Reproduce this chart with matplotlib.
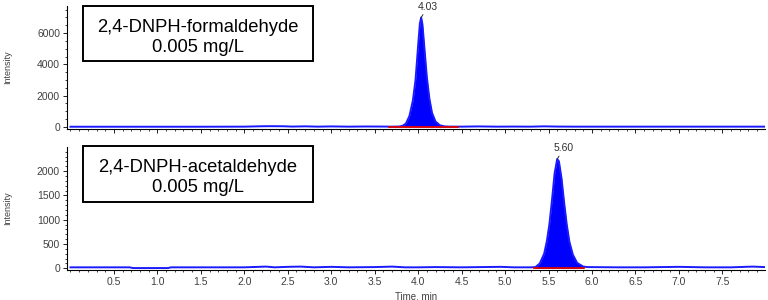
import numpy as np
import matplotlib
matplotlib.use('Agg')
import matplotlib.pyplot as plt
from matplotlib.patches import Rectangle
from matplotlib.ticker import MultipleLocator

plt.rcParams['font.family'] = ['Liberation Sans', 'DejaVu Sans']

# formaldehyde trace (time min, intensity)
form_base_t = [0.0, 0.5, 1.0, 1.5, 2.0, 2.2, 2.3, 2.45, 2.55, 2.7, 2.85, 3.0, 3.2, 3.4, 3.6, 3.7,
               4.35, 4.5, 4.7, 4.9, 5.1, 5.3, 5.45, 5.6, 5.8, 6.0, 6.5, 7.0, 7.5, 7.99]
form_base_y = [15, 15, 15, 15, 20, 45, 50, 45, 25, 40, 20, 35, 20, 30, 25, 20,
               25, 20, 35, 20, 25, 20, 40, 25, 20, 20, 20, 20, 20, 20]
form_peak_t = [3.78, 3.82, 3.86, 3.90, 3.94, 3.97, 4.00, 4.02, 4.035, 4.05, 4.07, 4.10, 4.13, 4.16, 4.20, 4.25, 4.30]
form_peak_y = [30, 70, 220, 700, 1700, 3000, 5200, 6600, 7000, 6550, 5200, 3200, 1800, 900, 350, 110, 40]
form_rt = 4.03
form_int = (3.66, 4.46)

# acetaldehyde trace
acet_base_t = [0.0, 0.5, 0.68, 0.72, 1.0, 1.12, 1.16, 1.5, 2.0, 2.25, 2.35, 2.5, 2.65, 2.8, 3.0, 3.2,
               3.5, 3.7, 3.85, 4.0, 4.2, 4.5, 4.95, 5.1, 5.3, 5.95, 6.3, 6.6, 7.0, 7.3, 7.6, 7.85, 7.99]
acet_base_y = [20, 20, 20, 5, 5, 5, 20, 20, 20, 35, 20, 30, 35, 20, 30, 20,
               25, 35, 20, 20, 25, 20, 30, 20, 20, 25, 20, 20, 30, 20, 20, 35, 25]
acet_peak_t = [5.35, 5.40, 5.45, 5.48, 5.51, 5.54, 5.57, 5.60, 5.62, 5.65, 5.68, 5.71, 5.74, 5.78, 5.83, 5.90]
acet_peak_y = [25, 100, 300, 550, 900, 1400, 1950, 2250, 2200, 1850, 1350, 900, 550, 280, 110, 35]
acet_rt = 5.60
acet_int = (5.33, 5.91)

panels = [
    dict(base_t=form_base_t, base_y=form_base_y, peak_t=form_peak_t, peak_y=form_peak_y,
         rt=form_rt, integ=form_int, label=['2,4-DNPH-formaldehyde', '0.005 mg/L'],
         yticks=[0, 2000, 4000, 6000], minor=500, ylim=(-130, 7730), pos=[0.0872, 0.57, 0.9088, 0.41]),
    dict(base_t=acet_base_t, base_y=acet_base_y, peak_t=acet_peak_t, peak_y=acet_peak_y,
         rt=acet_rt, integ=acet_int, label=['2,4-DNPH-acetaldehyde', '0.005 mg/L'],
         yticks=[0, 500, 1000, 1500, 2000], minor=100, ylim=(-35, 2496), pos=[0.0872, 0.10, 0.9088, 0.41]),
]

fig = plt.figure(figsize=(7.68, 3.0), dpi=100)
tc = '#404040'

for i, p in enumerate(panels):
    ax = fig.add_axes(p['pos'])
    # merge baseline and peak points, peak region overrides baseline
    lo, hi = p['peak_t'][0], p['peak_t'][-1]
    bt = [(t, y) for t, y in zip(p['base_t'], p['base_y']) if t < lo or t > hi]
    pts = sorted(bt + list(zip(p['peak_t'], p['peak_y'])))
    t = np.array([a for a, b in pts])
    y = np.array([b for a, b in pts])

    mask = (t >= p['integ'][0]) & (t <= p['integ'][1])
    ax.fill_between(t[mask], 0, y[mask], color='#0000ff', lw=0)
    ax.plot(t, y, color='#1a1aff', lw=1.4)
    ax.plot(p['integ'], [0, 0], color='#e00000', lw=1.3)

    apex = int(np.argmax(y))
    ax.annotate('%.2f' % p['rt'], xy=(t[apex], y[apex]), xytext=(5, 4), textcoords='offset points',
                ha='center', va='bottom', fontsize=7.5, color='#303030',
                arrowprops=dict(arrowstyle='-', color='#303030', lw=0.7, shrinkA=0, shrinkB=0))

    ax.set_xlim(-0.04, 7.99)
    ax.set_ylim(*p['ylim'])
    ax.set_yticks(p['yticks'])
    ax.yaxis.set_minor_locator(MultipleLocator(p['minor']))
    ax.xaxis.set_major_locator(MultipleLocator(0.5))
    ax.xaxis.set_minor_locator(MultipleLocator(0.1))
    for s in ['top', 'right']:
        ax.spines[s].set_visible(False)
    ax.spines['left'].set_linewidth(0.8)
    ax.spines['bottom'].set_linewidth(0.8)
    ax.tick_params(which='major', length=3, width=0.7, labelsize=7.5, colors='#202020', labelcolor=tc, pad=2)
    ax.tick_params(which='minor', length=1.5, width=0.6, colors='#202020')
    ax.set_ylabel('Intensity', fontsize=6.5, color=tc, labelpad=18)
    xt = np.arange(0.5, 8.0, 0.5)
    ax.set_xticks(xt)
    if i == 0:
        ax.set_xticklabels([])
    else:
        ax.set_xticklabels(['%.1f' % v for v in xt])
        ax.set_xlabel('Time, min', fontsize=7, color=tc, labelpad=3)

    # legend box with the compound name
    bx0, bw = 16 / 698, 230 / 698
    if i == 0:
        by0, bh, l1, l2 = (129 - 61) / 123, 55 / 123, (129 - 27) / 123, (129 - 48) / 123
    else:
        by0, bh, l1, l2 = (270 - 202) / 123, 56 / 123, (270 - 167) / 123, (270 - 187) / 123
    ax.add_patch(Rectangle((bx0, by0), bw, bh, transform=ax.transAxes, fill=True, fc='white',
                           ec='black', lw=1.4, clip_on=False, zorder=5))
    ax.text(bx0 + bw / 2, l1, p['label'][0], transform=ax.transAxes, ha='center', va='center',
            fontsize=13.2, zorder=6)
    ax.text(bx0 + bw / 2, l2, p['label'][1], transform=ax.transAxes, ha='center', va='center',
            fontsize=13.2, zorder=6)

fig.savefig('out.png', dpi=100)
